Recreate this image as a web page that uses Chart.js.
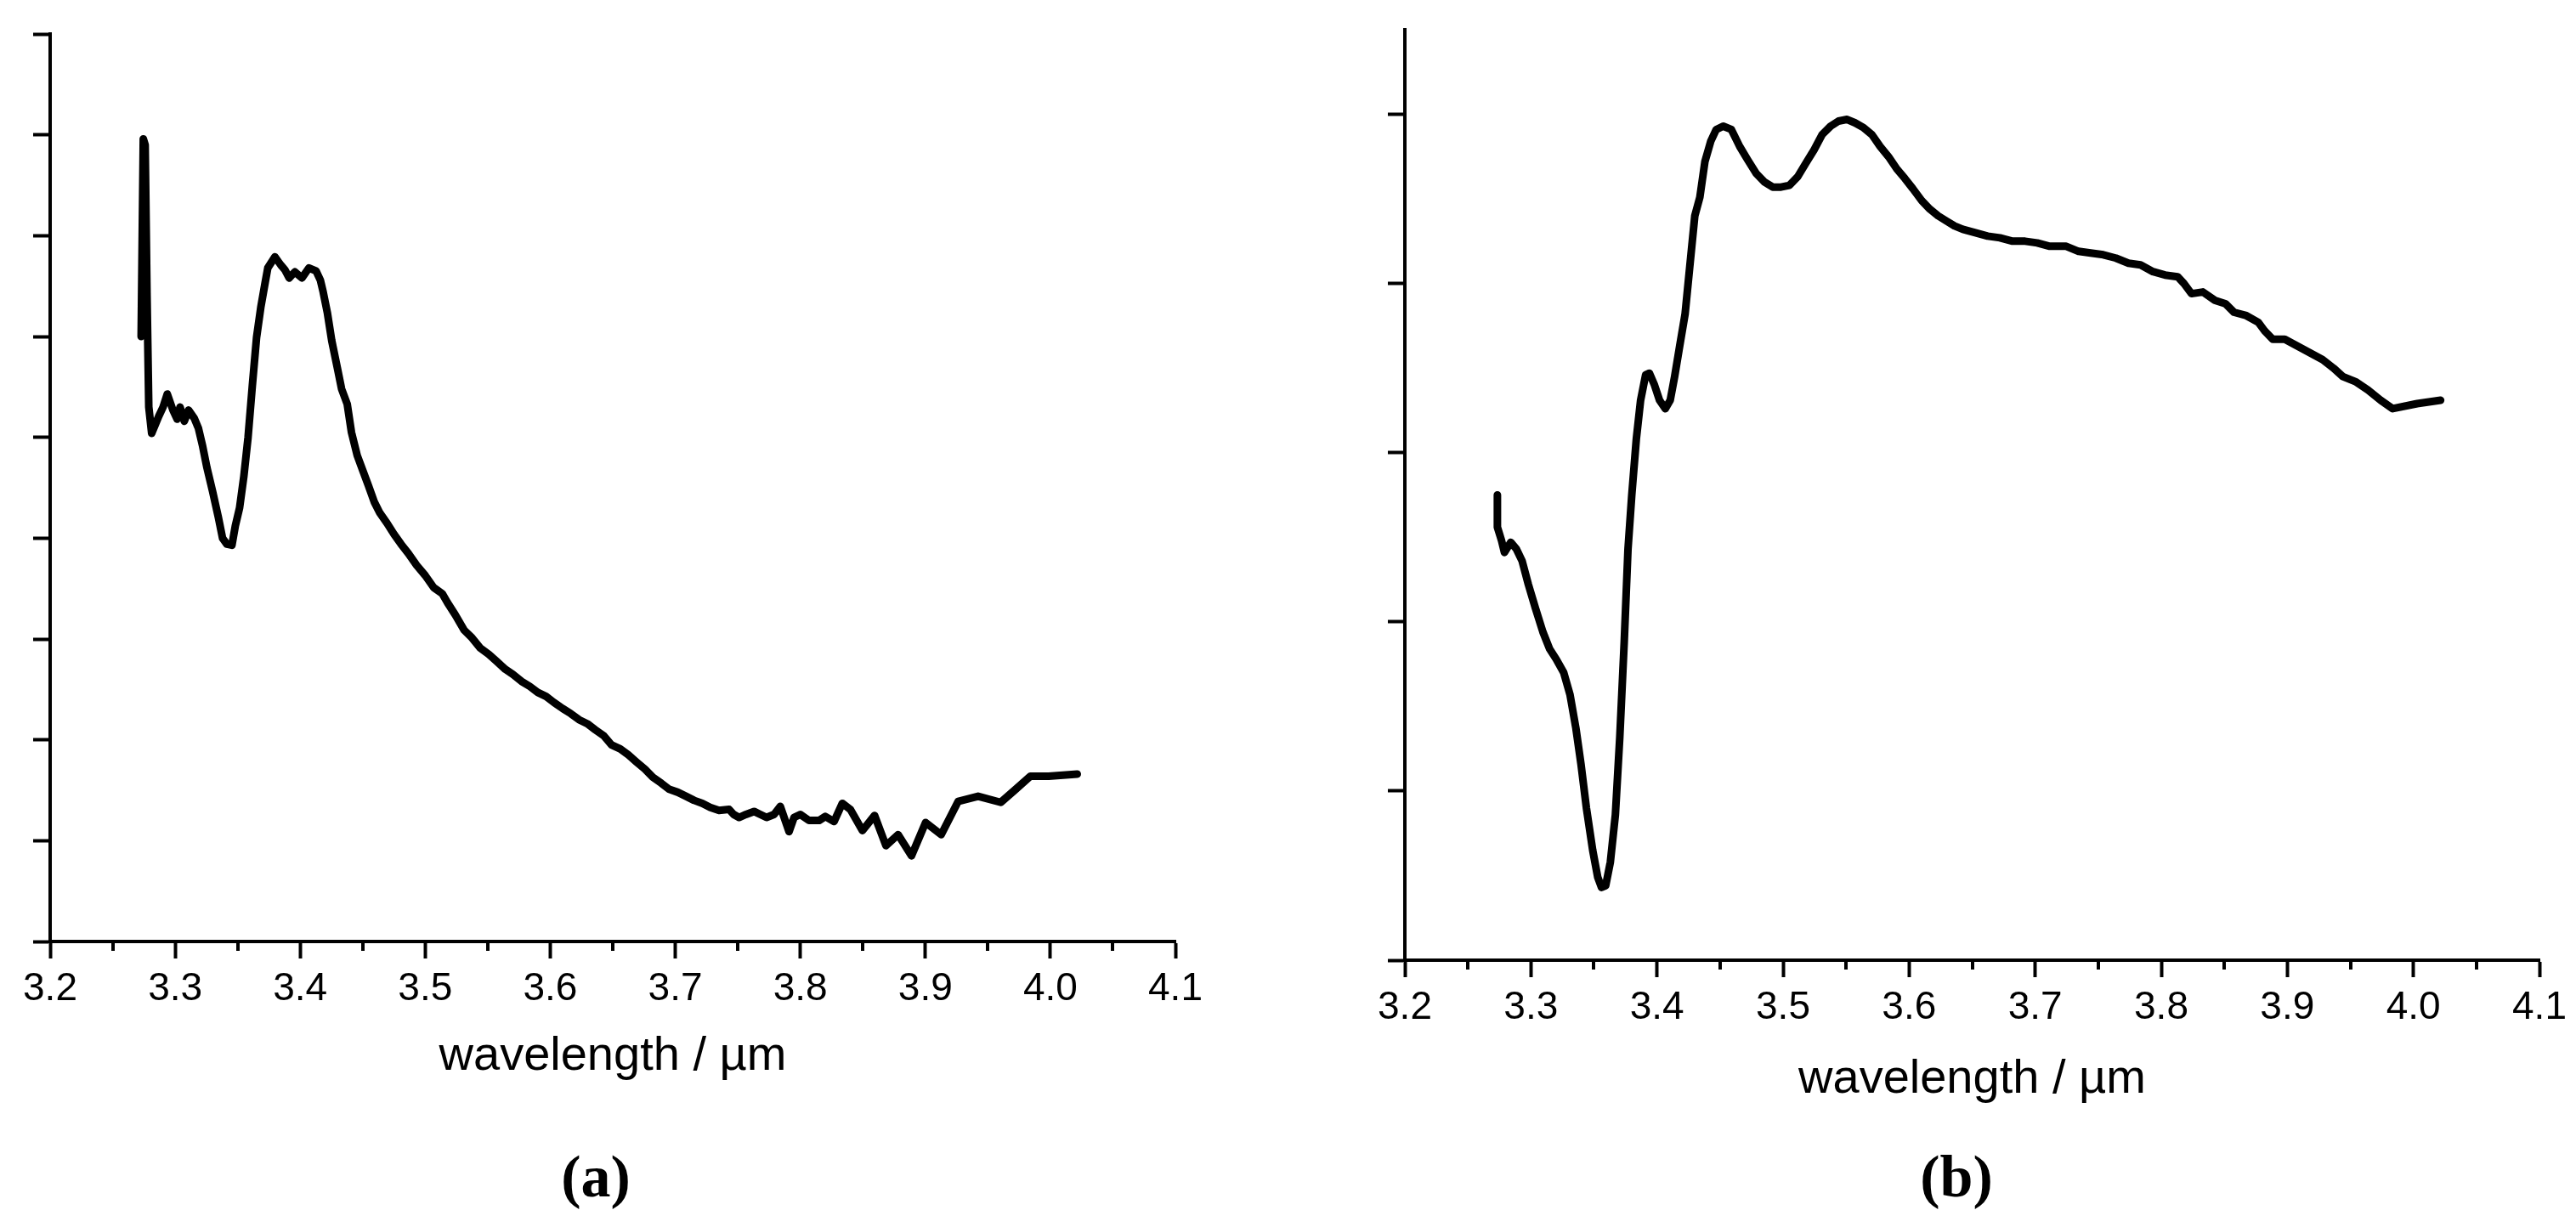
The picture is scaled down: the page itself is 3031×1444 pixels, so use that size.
<!DOCTYPE html>
<html lang="en">
<head>
    <meta charset="UTF-8">
    <title>wavelength spectra (a) and (b)</title>
    <script src="https://cdn.jsdelivr.net/npm/chart.js"></script>
    <style>
        body {
            margin: 0;
            width: 3031px;
            height: 1444px;
            overflow: hidden;
            background: white;
            position: relative;
        }
        canvas {
            position: absolute;
            top: 0;
        }
        #chartA { left: 0; }
        #chartB { left: 1515px; }
        .caption {
            position: absolute;
            width: 400px;
            text-align: center;
            font-family: 'Liberation Serif', serif;
            font-weight: bold;
            font-size: 70px;
            line-height: 70px;
            top: 1350px;
            color: black;
        }
    </style>
</head>
<body>
    <canvas id="chartA" width="1515" height="1300"></canvas>
    <canvas id="chartB" width="1516" height="1320"></canvas>
    <div class="caption" style="left: 501px;">(a)</div>
    <div class="caption" style="left: 2102px;">(b)</div>
    <script>
        // tick values shared by both panels
        const xTickLabels = ['3.2', '3.3', '3.4', '3.5', '3.6', '3.7', '3.8', '3.9', '4.0', '4.1'];
        const yTicksA = [0, 1, 2, 3, 4, 5, 6, 7, 8, 9];
        const yTicksB = [0, 1, 2, 3, 4, 5];

        // panel (a)
        const waveA = [3.2728, 3.2745, 3.2760, 3.2775, 3.2789, 3.2812, 3.2869, 3.2903, 3.2937, 3.2982,
            3.3016, 3.3039, 3.3073, 3.3107, 3.3152, 3.3186, 3.3220, 3.3254, 3.3300, 3.3345,
            3.3379, 3.3413, 3.3454, 3.3481, 3.3515, 3.3549, 3.3583, 3.3617, 3.3651, 3.3685,
            3.3719, 3.3741, 3.3798, 3.3844, 3.3878, 3.3912, 3.3957, 3.4014, 3.4070, 3.4127,
            3.4161, 3.4184, 3.4218, 3.4252, 3.4297, 3.4331, 3.4376, 3.4410, 3.4456, 3.4501,
            3.4546, 3.4592, 3.4637, 3.4694, 3.4750, 3.4807, 3.4864, 3.4932, 3.5000, 3.5068,
            3.5136, 3.5178, 3.5240, 3.5310, 3.5375, 3.5440, 3.5507, 3.5570, 3.5640, 3.5700,
            3.5770, 3.5836, 3.5900, 3.5967, 3.6030, 3.6100, 3.6164, 3.6230, 3.6296, 3.6360,
            3.6428, 3.6490, 3.6560, 3.6625, 3.6690, 3.6757, 3.6820, 3.6888, 3.6950, 3.7020,
            3.7086, 3.7150, 3.7217, 3.7280, 3.7350, 3.7430, 3.7467, 3.7510, 3.7566, 3.7630,
            3.7680, 3.7730, 3.7790, 3.7840, 3.7910, 3.7950, 3.8000, 3.8070, 3.8150, 3.8200,
            3.8270, 3.8336, 3.8400, 3.8497, 3.8594, 3.8685, 3.8782, 3.8889, 3.9002, 3.9127,
            3.9263, 3.9422, 3.9603, 3.9714, 3.9841, 3.9986, 4.0215];
        const absA = [6.00, 7.96, 7.90, 6.40, 5.30, 5.04, 5.21, 5.30, 5.43, 5.27,
            5.18, 5.30, 5.16, 5.27, 5.19, 5.09, 4.91, 4.70, 4.46, 4.21,
            4.00, 3.94, 3.93, 4.12, 4.30, 4.61, 5.00, 5.51, 5.99, 6.29,
            6.53, 6.68, 6.79, 6.71, 6.66, 6.58, 6.64, 6.58, 6.68, 6.65,
            6.56, 6.44, 6.23, 5.96, 5.69, 5.48, 5.33, 5.05, 4.82, 4.67,
            4.52, 4.36, 4.25, 4.15, 4.04, 3.94, 3.85, 3.73, 3.63, 3.51,
            3.45, 3.36, 3.24, 3.09, 3.01, 2.91, 2.85, 2.78, 2.70, 2.65,
            2.58, 2.53, 2.47, 2.43, 2.37, 2.31, 2.26, 2.20, 2.16, 2.10,
            2.04, 1.95, 1.91, 1.85, 1.78, 1.71, 1.63, 1.57, 1.51, 1.48,
            1.44, 1.40, 1.37, 1.33, 1.30, 1.31, 1.26, 1.23, 1.26, 1.29,
            1.26, 1.23, 1.26, 1.34, 1.09, 1.23, 1.26, 1.20, 1.20, 1.24,
            1.19, 1.37, 1.31, 1.10, 1.25, 0.95, 1.06, 0.85, 1.18, 1.06,
            1.39, 1.44, 1.38, 1.50, 1.64, 1.64, 1.66];

        // panel (b)
        const waveB = [3.2734, 3.2734, 3.2767, 3.2790, 3.2840, 3.2885, 3.2930, 3.2980, 3.3036, 3.3095,
            3.3148, 3.3200, 3.3260, 3.3310, 3.3357, 3.3397, 3.3440, 3.3490, 3.3530, 3.3560,
            3.3593, 3.3630, 3.3670, 3.3705, 3.3740, 3.3770, 3.3800, 3.3836, 3.3870, 3.3910,
            3.3940, 3.3980, 3.4020, 3.4066, 3.4105, 3.4140, 3.4180, 3.4223, 3.4260, 3.4300,
            3.4340, 3.4380, 3.4426, 3.4470, 3.4525, 3.4590, 3.4656, 3.4720, 3.4787, 3.4852,
            3.4918, 3.4984, 3.5050, 3.5115, 3.5180, 3.5246, 3.5310, 3.5377, 3.5440, 3.5508,
            3.5570, 3.5640, 3.5705, 3.5770, 3.5836, 3.5900, 3.5967, 3.6030, 3.6100, 3.6164,
            3.6230, 3.6295, 3.6360, 3.6426, 3.6525, 3.6623, 3.6720, 3.6820, 3.6920, 3.7016,
            3.7115, 3.7246, 3.7344, 3.7440, 3.7540, 3.7640, 3.7740, 3.7836, 3.7934, 3.8030,
            3.8130, 3.8180, 3.8240, 3.8330, 3.8426, 3.8510, 3.8577, 3.8675, 3.8770, 3.8820,
            3.8885, 3.8980, 3.9080, 3.9180, 3.9280, 3.9366, 3.9440, 3.9540, 3.9640, 3.9740,
            3.9836, 4.0030, 4.0216];
        const absB = [2.75, 2.56, 2.48, 2.41, 2.47, 2.43, 2.36, 2.22, 2.08, 1.94,
            1.84, 1.78, 1.70, 1.57, 1.37, 1.16, 0.90, 0.65, 0.49, 0.43,
            0.44, 0.58, 0.86, 1.32, 1.88, 2.43, 2.75, 3.08, 3.31, 3.46,
            3.47, 3.40, 3.31, 3.26, 3.31, 3.45, 3.63, 3.82, 4.10, 4.40,
            4.51, 4.72, 4.84, 4.91, 4.93, 4.91, 4.81, 4.73, 4.65, 4.60,
            4.57, 4.57, 4.58, 4.63, 4.71, 4.79, 4.88, 4.93, 4.96, 4.97,
            4.95, 4.92, 4.88, 4.81, 4.75, 4.68, 4.62, 4.56, 4.49, 4.44,
            4.40, 4.37, 4.34, 4.32, 4.30, 4.28, 4.27, 4.25, 4.25, 4.24,
            4.22, 4.22, 4.19, 4.18, 4.17, 4.15, 4.12, 4.11, 4.07, 4.05,
            4.04, 4.00, 3.94, 3.95, 3.90, 3.88, 3.83, 3.81, 3.77, 3.72,
            3.67, 3.67, 3.63, 3.59, 3.55, 3.50, 3.45, 3.42, 3.37, 3.31,
            3.26, 3.29, 3.31];

        // short ticks halfway between the labelled ones
        const minorTicks = {
            id: 'minorTicks',
            afterDraw(chart) {
                const s = chart.scales.x;
                const ctx = chart.ctx;
                ctx.save();
                ctx.strokeStyle = '#000';
                ctx.lineWidth = 4;
                ctx.beginPath();
                for (let i = 0; i < s.ticks.length - 1; i++) {
                    const mid = (s.ticks[i].value + s.ticks[i + 1].value) / 2;
                    const px = Math.round(s.getPixelForValue(mid));
                    ctx.moveTo(px, s.top);
                    ctx.lineTo(px, s.top + 11);
                }
                ctx.stroke();
                ctx.restore();
            }
        };

        function creaPannello(id, xs, ys, yTicks, yMax, opts) {
            const punti = xs.map((x, i) => ({ x: x, y: ys[i] }));
            return new Chart(document.getElementById(id), {
                type: 'line',
                data: {
                    datasets: [{
                        data: punti,
                        borderColor: '#000',
                        borderWidth: 9,
                        borderJoinStyle: 'round',
                        borderCapStyle: 'round',
                        pointRadius: 0,
                        tension: 0,
                        fill: false
                    }]
                },
                options: {
                    responsive: false,
                    animation: false,
                    devicePixelRatio: 1,
                    layout: {
                        padding: { left: 0, top: opts.top, right: opts.right, bottom: 0 }
                    },
                    plugins: {
                        legend: { display: false },
                        tooltip: { enabled: false }
                    },
                    scales: {
                        x: {
                            type: 'linear',
                            min: 3.2,
                            max: 4.1,
                            afterBuildTicks: s => {
                                s.ticks = xTickLabels.map(v => ({ value: parseFloat(v) }));
                            },
                            afterFit: s => { s.height = opts.xHeight; },
                            border: { display: true, color: '#000', width: 4 },
                            grid: {
                                drawOnChartArea: false,
                                drawTicks: true,
                                tickLength: 20,
                                tickWidth: 4,
                                tickColor: '#000'
                            },
                            ticks: {
                                color: '#000',
                                padding: 9,
                                maxRotation: 0,
                                autoSkip: false,
                                font: { family: "'Liberation Sans', Arial, sans-serif", size: 46 },
                                callback: v => v.toFixed(1)
                            },
                            title: {
                                display: true,
                                text: 'wavelength / µm',
                                color: '#000',
                                padding: { top: 0, bottom: opts.titlePad },
                                font: { family: "'Liberation Sans', Arial, sans-serif", size: 56 }
                            }
                        },
                        y: {
                            type: 'linear',
                            min: 0,
                            max: yMax,
                            afterBuildTicks: s => {
                                s.ticks = yTicks.map(v => ({ value: v }));
                            },
                            afterFit: s => { s.width = opts.yWidth; },
                            border: { display: true, color: '#000', width: 4 },
                            grid: {
                                drawOnChartArea: false,
                                drawTicks: true,
                                tickLength: 20,
                                tickWidth: 4,
                                tickColor: '#000'
                            },
                            ticks: { display: false }
                        }
                    }
                },
                plugins: [minorTicks]
            });
        }

        creaPannello('chartA', waveA, absA, yTicksA, 9,
            { top: 40, right: 132, xHeight: 192, yWidth: 59, titlePad: 23 });
        creaPannello('chartB', waveB, absB, yTicksB, 5.5,
            { top: 35, right: 43, xHeight: 190, yWidth: 138, titlePad: 16 });
    </script>
</body>
</html>
